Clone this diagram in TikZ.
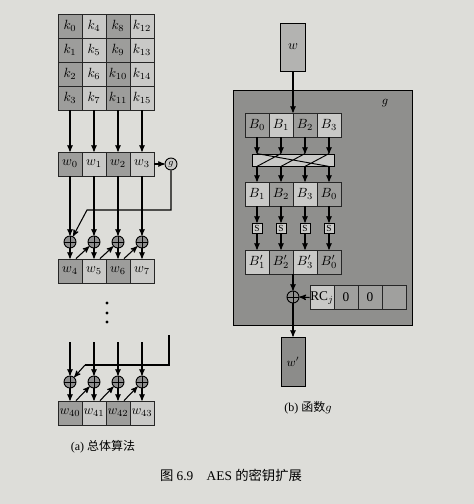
\documentclass[tikz,border=0pt]{standalone}
\usepackage{fontspec}
\setmainfont{Liberation Serif}
\newfontfamily\cjk{Noto Sans CJK SC}
\usetikzlibrary{calc}
\usetikzlibrary{arrows}
\definecolor{paper}{HTML}{DDDDD9}
\definecolor{celldark}{HTML}{9D9D9B}
\definecolor{celllight}{HTML}{C9C9C7}
\definecolor{gboxgray}{HTML}{8F8F8D}
\definecolor{wingray}{HTML}{B3B3B1}
\definecolor{woutgray}{HTML}{8C8C8A}
\definecolor{xorgray}{HTML}{8E8E8E}
\tikzset{
 cell/.style={draw=black!85, line width=0.6pt, minimum width=18pt, minimum height=18pt, inner sep=0pt, font=\normalsize},
 darkcell/.style={cell, fill=celldark},
 lightcell/.style={cell, fill=celllight},
 xorsym/.style={circle, draw, line width=0.7pt, minimum size=9pt, inner sep=0pt,
  path picture={\draw[line width=0.6pt] (path picture bounding box.north) -- (path picture bounding box.south)
   (path picture bounding box.west) -- (path picture bounding box.east);}},
 link/.style={line width=0.8pt, ->, >=stealth'},
}

\begin{document}
\begin{tikzpicture}[x=0.75pt, y=-0.75pt]
\fill[paper] (0,0) rectangle (474,504);
% (a) key schedule
\foreach \c/\sty in {0/darkcell,1/lightcell,2/darkcell,3/lightcell} {
 \foreach \r in {0,...,3} {
  \pgfmathtruncatemacro{\n}{4*\c+\r}
  \node[\sty] (k\n) at ({70+24*\c},{26+24*\r}) {$k_{\n}$};
 }
 \node[\sty] (w\c) at ({70+24*\c},164) {$w_{\c}$};
 \node[xorsym, fill=xorgray] (xa\c) at ({70+24*\c},242) {};
 \pgfmathtruncatemacro{\m}{\c+4}
 \node[\sty] (w\m) at ({70+24*\c},271) {$w_{\m}$};
 \coordinate (t\c) at ({70+24*\c},342);
 \node[xorsym, fill=xorgray] (xb\c) at ({70+24*\c},382) {};
 \pgfmathtruncatemacro{\m}{\c+40}
 \node[\sty] (w\m) at ({70+24*\c},413) {$w_{\m}$};
}
\foreach \c/\n in {0/3,1/7,2/11,3/15} {
 \draw[link] (k\n.south) -- (w\c.north);
}
\node[circle, draw, fill=celllight, line width=0.7pt, minimum size=9pt, inner sep=0pt, font=\scriptsize] (gfun) at (171,164) {$g$};
\draw[link] (w3.east) -- (gfun.west);
\coordinate (gturn) at (171,210);
\coordinate (gbend) at (87,210);
\draw[link] (gfun.south) -- (gturn) -- (gbend) -- (xa0);
\foreach \c in {0,...,3} {
 \pgfmathtruncatemacro{\m}{\c+4}
 \pgfmathtruncatemacro{\q}{\c+40}
 \draw[link] (w\c.south) -- (xa\c.north);
 \draw[link] (xa\c.south) -- (w\m.north);
 \draw[link] (t\c) -- (xb\c.north);
 \draw[link] (xb\c.south) -- (w\q.north);
}
\foreach \c in {0,1,2} {
 \pgfmathtruncatemacro{\m}{\c+4}
 \pgfmathtruncatemacro{\q}{\c+40}
 \pgfmathtruncatemacro{\d}{\c+1}
 \draw[link] ([xshift=4.5pt]w\m.north) -- (xa\d);
 \draw[link] ([xshift=4.5pt]w\q.north) -- (xb\d);
}
\foreach \y in {303,313,322} {
 \fill (107,\y) circle (1.3pt);
}
\coordinate (gtop) at (169,335);
\coordinate (gturn2) at (169,365);
\coordinate (gbend2) at (85,365);
\draw[line width=0.8pt] (gtop) -- (gturn2) -- (gbend2);
\draw[link] (gbend2) -- (xb0);
\node[font=\small] (capa) at (103,447) {(a) {\cjk 总体算法}};
% (b) function g
\node[draw, fill=wingray, line width=0.6pt, minimum width=18.75pt, minimum height=36pt, inner sep=0pt, font=\normalsize] (win) at (293,47) {$w$};
\node[draw, fill=gboxgray, line width=0.6pt, minimum width=134.25pt, minimum height=176.25pt, inner sep=0pt] (gbig) at (322.5,207.5) {};
\node[font=\small] (glabel) at (385,103) {$g$};
\foreach \c/\sty/\i in {0/darkcell/0,1/lightcell/1,2/darkcell/2,3/lightcell/3} {
 \node[\sty] (b\c) at ({257+24*\c},125) {$B_{\i}$};
}
\foreach \c/\sty/\i in {0/lightcell/1,1/darkcell/2,2/lightcell/3,3/darkcell/0} {
 \node[\sty] (c\c) at ({257+24*\c},194) {$B_{\i}$};
 \node[draw, fill=celllight, line width=0.6pt, minimum size=7.5pt, inner sep=0pt, font=\scriptsize] (s\c) at ({257+24*\c},228) {S};
 \node[\sty] (p\c) at ({257+24*\c},262) {$B'_{\i}$};
}
\draw[link] (win.south) -- (win.south |- b1.north);
\node[draw, fill=celllight, line width=0.6pt, minimum width=61.5pt, minimum height=9pt, inner sep=0pt] (rot) at (293,160) {};
\draw[line width=0.7pt] (b0 |- rot.north) -- (b3 |- rot.south)
 (b1 |- rot.north) -- (b0 |- rot.south)
 (b2 |- rot.north) -- (b1 |- rot.south)
 (b3 |- rot.north) -- (b2 |- rot.south);
\foreach \c in {0,...,3} {
 \draw[link] (b\c.south) -- (b\c |- rot.north);
 \draw[link] (b\c |- rot.south) -- (c\c.north);
 \draw[link] (c\c.south) -- (s\c.north);
 \draw[link] (s\c.south) -- (p\c.north);
}
\node[xorsym] (xg) at (293,297) {};
\draw[link] (xg |- p1.south) -- (xg.north);
\node[lightcell] (rc0) at (322,297.5) {$\mathrm{RC}_j$};
\node[cell, fill=gboxgray!85!white] (rc1) at (346,297.5) {0};
\node[cell, fill=gboxgray!85!white] (rc2) at (370,297.5) {0};
\node[cell, fill=gboxgray!85!white] (rc3) at (394,297.5) {};
\draw[link] (rc0.west) -- (xg.east);
\node[draw, fill=woutgray, line width=0.6pt, minimum width=18pt, minimum height=36.75pt, inner sep=0pt, font=\small] (wout) at (293,361.5) {$w'$};
\draw[link] (xg.south) -- (wout.north);
\node[font=\small] (capb) at (308,408) {(b) {\cjk 函数}$g$};
\node[font=\normalsize] (capfig) at (231,475) {{\cjk 图} 6.9\quad AES {\cjk 的密钥扩展}};
\end{tikzpicture}
\end{document}
